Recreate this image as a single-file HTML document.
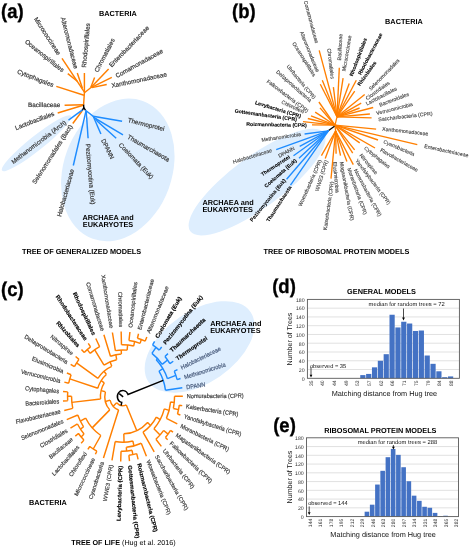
<!DOCTYPE html>
<html><head><meta charset="utf-8"><style>
html,body{margin:0;padding:0;background:#fff;}
svg{display:block;}
text{font-family:"Liberation Sans", Arial, sans-serif;text-rendering:geometricPrecision;}
</style></head><body>
<svg width="470" height="550" viewBox="0 0 470 550">
<rect width="470" height="550" fill="#fff"/>
<ellipse cx="117.81" cy="169.9" rx="54.2" ry="73.3" transform="rotate(19.95 117.81 169.9)" fill="#deeefe"/>
<ellipse cx="36.5" cy="143.2" rx="44.0" ry="7.2" transform="rotate(-38.5 36.5 143.2)" fill="#deeefe"/>
<ellipse cx="257.06" cy="182.13" rx="82.9" ry="25.6" transform="rotate(-36.35 257.06 182.13)" fill="#deeefe"/>
<ellipse cx="199.55" cy="346.97" rx="61.86" ry="35.8" transform="rotate(-34.48 199.55 346.97)" fill="#deeefe"/>
<text transform="translate(1 17.8) scale(0.93 1)" font-size="19.9" font-weight="bold" fill="#000" stroke="#000" stroke-width="0.35">(a)</text>
<text transform="translate(232 17.8) scale(0.93 1)" font-size="19.9" font-weight="bold" fill="#000" stroke="#000" stroke-width="0.35">(b)</text>
<text transform="translate(1 295.8) scale(0.93 1)" font-size="19.9" font-weight="bold" fill="#000" stroke="#000" stroke-width="0.35">(c)</text>
<text transform="translate(272.2 293.0) scale(0.93 1)" font-size="19.9" font-weight="bold" fill="#000" stroke="#000" stroke-width="0.35">(d)</text>
<text transform="translate(273.2 432.2) scale(0.93 1)" font-size="19.9" font-weight="bold" fill="#000" stroke="#000" stroke-width="0.35">(e)</text>
<text transform="translate(35.60 17.70) rotate(57.0)" font-size="6.3" stroke="#383838" stroke-width="0.2" fill="#383838" dy="0.36em">Micrococcineae</text>
<text transform="translate(63.00 17.30) rotate(75.5)" font-size="6.3" stroke="#383838" stroke-width="0.2" fill="#383838" dy="0.36em">Alteromonadaceae</text>
<text transform="translate(83.80 67.50) rotate(-84.8)" font-size="6.3" stroke="#383838" stroke-width="0.2" fill="#383838" dy="0.36em">Rhodospirillales</text>
<text transform="translate(25.90 40.70) rotate(38.8)" font-size="6.3" stroke="#383838" stroke-width="0.2" fill="#383838" dy="0.36em">Oceanospirillales</text>
<text transform="translate(17.50 71.10) rotate(21.0)" font-size="6.3" stroke="#383838" stroke-width="0.2" fill="#383838" dy="0.36em">Cytophagales</text>
<text transform="translate(95.90 71.70) rotate(-62.7)" font-size="6.3" stroke="#383838" stroke-width="0.2" fill="#383838" dy="0.36em">Chromatiales</text>
<text transform="translate(110.00 66.00) rotate(-46.0)" font-size="6.3" stroke="#383838" stroke-width="0.2" fill="#383838" dy="0.36em">Enterobacteriaceae</text>
<text transform="translate(115.80 76.10) rotate(-28.9)" font-size="6.3" stroke="#383838" stroke-width="0.2" fill="#383838" dy="0.36em">Comamonadaceae</text>
<text transform="translate(111.50 85.60) rotate(-11.8)" font-size="6.3" stroke="#383838" stroke-width="0.2" fill="#383838" dy="0.36em">Xanthomonadaceae</text>
<text transform="translate(28.10 104.50) rotate(0.0)" font-size="6.3" stroke="#383838" stroke-width="0.2" fill="#383838" dy="0.36em">Bacillaceae</text>
<text transform="translate(15.30 128.00) rotate(-21.0)" font-size="6.3" stroke="#383838" stroke-width="0.2" fill="#383838" dy="0.36em">Lactobacillales</text>
<text transform="translate(12.00 162.40) rotate(-37.4)" font-size="6.3" stroke="#383838" stroke-width="0.2" fill="#383838" dy="0.36em">Methanomicrobia (Arch)</text>
<text transform="translate(33.60 183.20) rotate(-57.3)" font-size="6.3" stroke="#383838" stroke-width="0.2" fill="#383838" dy="0.36em">Selenomonadales (Bact)</text>
<text transform="translate(58.80 216.40) rotate(-74.3)" font-size="6.3" stroke="#383838" stroke-width="0.2" fill="#383838" dy="0.36em">Halobacteriaceae</text>
<text transform="translate(87.90 143.80) rotate(85.0)" font-size="6.3" stroke="#383838" stroke-width="0.2" fill="#383838" dy="0.36em">Pezizomycotina (Euk)</text>
<text transform="translate(103.00 139.20) rotate(63.6)" font-size="6.3" stroke="#383838" stroke-width="0.2" fill="#383838" dy="0.36em">DPANN</text>
<text transform="translate(120.00 143.60) rotate(46.3)" font-size="6.3" stroke="#383838" stroke-width="0.2" fill="#383838" dy="0.36em">Coelomata (Euk)</text>
<text transform="translate(128.00 136.20) rotate(30.0)" font-size="6.3" stroke="#383838" stroke-width="0.2" fill="#383838" dy="0.36em">Thaumarchaeota</text>
<text transform="translate(128.00 119.80) rotate(14.0)" font-size="6.3" stroke="#383838" stroke-width="0.2" fill="#383838" dy="0.36em">Thermoprotei</text>
<text x="99.00" y="16.20" font-size="7.3" font-weight="bold" fill="#000">BACTERIA</text>
<text x="108.00" y="219.60" font-size="7.3" font-weight="bold" fill="#000" text-anchor="middle">ARCHAEA and</text>
<text x="108.00" y="227.00" font-size="7.3" font-weight="bold" fill="#000" text-anchor="middle">EUKARYOTES</text>
<text x="22.00" y="253.80" font-size="7.3" font-weight="bold" fill="#000">TREE OF GENERALIZED MODELS</text>
<polyline points="62.00,58.30 84.40,92.10" fill="none" stroke="#ff7f00" stroke-width="1.45"/>
<polyline points="67.80,73.60 77.30,81.30" fill="none" stroke="#ff7f00" stroke-width="1.45"/>
<polyline points="77.30,73.00 82.40,88.30" fill="none" stroke="#ff7f00" stroke-width="1.45"/>
<polyline points="84.40,73.00 84.40,92.80 83.60,104.80" fill="none" stroke="#ff7f00" stroke-width="1.45"/>
<polyline points="56.30,86.40 84.00,95.30" fill="none" stroke="#ff7f00" stroke-width="1.45"/>
<polyline points="90.70,87.70 84.40,92.80" fill="none" stroke="#ff7f00" stroke-width="1.45"/>
<polyline points="94.60,77.40 90.70,87.70" fill="none" stroke="#ff7f00" stroke-width="1.45"/>
<polyline points="108.60,69.10 90.70,87.70" fill="none" stroke="#ff7f00" stroke-width="1.45"/>
<polyline points="111.80,77.40 91.50,87.40" fill="none" stroke="#ff7f00" stroke-width="1.45"/>
<polyline points="106.70,84.50 91.80,87.60" fill="none" stroke="#ff7f00" stroke-width="1.45"/>
<polyline points="64.60,105.20 83.20,104.80" fill="none" stroke="#ff7f00" stroke-width="1.45"/>
<polyline points="57.70,113.00 83.20,105.30" fill="none" stroke="#ff7f00" stroke-width="1.45"/>
<polyline points="72.80,123.50 82.10,111.00" fill="none" stroke="#ff7f00" stroke-width="1.45"/>
<polyline points="83.60,104.60 83.80,107.60 82.20,110.60" fill="none" stroke="#000" stroke-width="1.4"/>
<polyline points="83.80,107.60 85.60,110.30" fill="none" stroke="#000" stroke-width="1.4"/>
<polyline points="68.50,120.10 82.50,109.80" fill="none" stroke="#1e8cff" stroke-width="1.45"/>
<polyline points="73.30,165.50 86.00,110.80" fill="none" stroke="#1e8cff" stroke-width="1.45"/>
<polyline points="88.10,138.30 86.20,111.00" fill="none" stroke="#1e8cff" stroke-width="1.45"/>
<polyline points="85.50,110.20 93.20,116.20 122.10,121.30" fill="none" stroke="#1e8cff" stroke-width="1.45"/>
<polyline points="93.20,116.20 100.90,134.00" fill="none" stroke="#1e8cff" stroke-width="1.45"/>
<polyline points="93.20,116.20 95.70,118.70 123.00,134.90" fill="none" stroke="#1e8cff" stroke-width="1.45"/>
<polyline points="95.70,118.70 97.40,121.30 116.20,138.30" fill="none" stroke="#1e8cff" stroke-width="1.45"/>
<text transform="translate(305.30 0.90) rotate(74.8)" font-size="5.2" stroke="#404040" stroke-width="0.12" fill="#404040" dy="0.3em">Comamonadaceae</text>
<text transform="translate(301.10 31.50) rotate(67.6)" font-size="5.2" stroke="#404040" stroke-width="0.12" fill="#404040" dy="0.3em">Alteromonadaceae</text>
<text transform="translate(293.40 42.60) rotate(57.7)" font-size="5.2" stroke="#404040" stroke-width="0.12" fill="#404040" dy="0.3em">Oceanospirillales</text>
<text transform="translate(328.80 48.50) rotate(83.3)" font-size="5.2" stroke="#404040" stroke-width="0.12" fill="#404040" dy="0.3em">Chromatiales</text>
<text transform="translate(339.40 60.40) rotate(-87.0)" font-size="5.2" stroke="#404040" stroke-width="0.12" fill="#404040" dy="0.3em">Bacillaceae</text>
<text transform="translate(344.00 71.20) rotate(-80.4)" font-size="5.2" stroke="#404040" stroke-width="0.12" fill="#404040" dy="0.3em">Micrococcineae</text>
<text transform="translate(351.20 75.90) rotate(-69.0)" font-size="5.2" font-weight="bold" stroke="#000" stroke-width="0.1" fill="#000" dy="0.3em">Rhodospirillales</text>
<text transform="translate(359.50 74.60) rotate(-62.1)" font-size="5.2" font-weight="bold" stroke="#000" stroke-width="0.1" fill="#000" dy="0.3em">Rhodobacteraceae</text>
<text transform="translate(358.70 85.40) rotate(-54.4)" font-size="5.2" font-weight="bold" stroke="#000" stroke-width="0.1" fill="#000" dy="0.3em">Rhizobiales</text>
<text transform="translate(369.80 89.70) rotate(-45.9)" font-size="5.2" stroke="#404040" stroke-width="0.12" fill="#404040" dy="0.3em">Selenomonadales</text>
<text transform="translate(366.40 99.00) rotate(-36.0)" font-size="5.2" stroke="#404040" stroke-width="0.12" fill="#404040" dy="0.3em">Clostridiales</text>
<text transform="translate(366.40 104.10) rotate(-27.5)" font-size="5.2" stroke="#404040" stroke-width="0.12" fill="#404040" dy="0.3em">Lactobacillales</text>
<text transform="translate(379.50 105.30) rotate(-21.0)" font-size="5.2" stroke="#404040" stroke-width="0.12" fill="#404040" dy="0.3em">Bacteroidales</text>
<text transform="translate(376.40 113.60) rotate(-14.5)" font-size="5.2" stroke="#404040" stroke-width="0.12" fill="#404040" dy="0.3em">Verrucomicrobia</text>
<text transform="translate(378.30 119.60) rotate(-6.3)" font-size="5.2" stroke="#404040" stroke-width="0.12" fill="#404040" dy="0.3em">Saccharibacteria (CPR)</text>
<text transform="translate(382.20 129.00) rotate(6.2)" font-size="5.2" stroke="#404040" stroke-width="0.12" fill="#404040" dy="0.3em">Xanthomonadaceae</text>
<text transform="translate(424.40 146.30) rotate(12.1)" font-size="5.2" stroke="#404040" stroke-width="0.12" fill="#404040" dy="0.3em">Enterobacteriaceae</text>
<text transform="translate(383.60 141.50) rotate(23.1)" font-size="5.2" stroke="#404040" stroke-width="0.12" fill="#404040" dy="0.3em">Cyanobacteria</text>
<text transform="translate(380.60 149.80) rotate(29.3)" font-size="5.2" stroke="#404040" stroke-width="0.12" fill="#404040" dy="0.3em">Flavobacteriaceae</text>
<text transform="translate(364.70 147.50) rotate(39.0)" font-size="5.2" stroke="#404040" stroke-width="0.12" fill="#404040" dy="0.3em">Cytophagales</text>
<text transform="translate(360.40 154.50) rotate(50.0)" font-size="5.2" stroke="#404040" stroke-width="0.12" fill="#404040" dy="0.3em">Nitrospirae</text>
<text transform="translate(356.20 159.80) rotate(53.1)" font-size="5.2" stroke="#404040" stroke-width="0.12" fill="#404040" dy="0.3em">Yanofskybacteria (CPR)</text>
<text transform="translate(355.10 169.40) rotate(61.9)" font-size="5.2" stroke="#404040" stroke-width="0.12" fill="#404040" dy="0.3em">Nomurabacteria (CPR)</text>
<text transform="translate(348.70 168.30) rotate(70.3)" font-size="5.2" stroke="#404040" stroke-width="0.12" fill="#404040" dy="0.3em">Moranbacteria (CPR)</text>
<text transform="translate(341.30 161.90) rotate(79.6)" font-size="5.2" stroke="#404040" stroke-width="0.12" fill="#404040" dy="0.3em">Magasanikbacteria (CPR)</text>
<text transform="translate(334.50 161.90) rotate(85.0)" font-size="5.2" stroke="#404040" stroke-width="0.12" fill="#404040" dy="0.3em">Elusimicrobia</text>
<text transform="translate(325.20 230.00) rotate(-81.8)" font-size="5.2" stroke="#404040" stroke-width="0.12" fill="#404040" dy="0.3em">Kaiserbacteria (CPR)</text>
<text transform="translate(317.00 191.00) rotate(-72.6)" font-size="5.2" stroke="#404040" stroke-width="0.12" fill="#404040" dy="0.3em">WWE3 (CPR)</text>
<text transform="translate(300.00 206.00) rotate(-66.0)" font-size="5.2" stroke="#404040" stroke-width="0.12" fill="#404040" dy="0.3em">Woesebacteria (CPR)</text>
<text transform="translate(267.80 221.40) rotate(-57.0)" font-size="5.2" font-weight="bold" stroke="#000" stroke-width="0.1" fill="#000" dy="0.3em">Thaumarchaeota</text>
<text transform="translate(251.00 220.90) rotate(-50.6)" font-size="5.2" font-weight="bold" stroke="#000" stroke-width="0.1" fill="#000" dy="0.3em">Pezizomycotina (Euk)</text>
<text transform="translate(265.30 186.90) rotate(-41.3)" font-size="5.2" font-weight="bold" stroke="#000" stroke-width="0.1" fill="#000" dy="0.3em">Coelomata (Euk)</text>
<text transform="translate(261.60 175.00) rotate(-33.3)" font-size="5.2" font-weight="bold" stroke="#000" stroke-width="0.1" fill="#000" dy="0.3em">Thermoprotei</text>
<text transform="translate(278.70 156.40) rotate(-27.8)" font-size="5.2" stroke="#404040" stroke-width="0.12" fill="#404040" dy="0.3em">DPANN</text>
<text transform="translate(233.10 162.20) rotate(-17.0)" font-size="5.2" stroke="#404040" stroke-width="0.12" fill="#404040" dy="0.3em">Halobacteriaceae</text>
<text transform="translate(261.50 140.10) rotate(-8.3)" font-size="5.2" stroke="#404040" stroke-width="0.12" fill="#404040" dy="0.3em">Methanomicrobia</text>
<text transform="translate(246.30 124.30) rotate(1.1)" font-size="5.2" font-weight="bold" stroke="#000" stroke-width="0.1" fill="#000" dy="0.3em">Roizmannbacteria (CPR)</text>
<text transform="translate(234.60 110.90) rotate(8.0)" font-size="5.2" font-weight="bold" stroke="#000" stroke-width="0.1" fill="#000" dy="0.3em">Gottesmanbacteria (CPR)</text>
<text transform="translate(255.30 102.60) rotate(17.0)" font-size="5.2" font-weight="bold" stroke="#000" stroke-width="0.1" fill="#000" dy="0.3em">Levybacteria (CPR)</text>
<text transform="translate(281.70 101.90) rotate(24.5)" font-size="5.2" stroke="#404040" stroke-width="0.12" fill="#404040" dy="0.3em">Chloroflexi</text>
<text transform="translate(267.30 80.90) rotate(37.0)" font-size="5.2" stroke="#404040" stroke-width="0.12" fill="#404040" dy="0.3em">Falkowbacteria (CPR)</text>
<text transform="translate(276.90 71.30) rotate(41.6)" font-size="5.2" stroke="#404040" stroke-width="0.12" fill="#404040" dy="0.3em">Deltaproteobacteria</text>
<text transform="translate(287.40 65.50) rotate(50.5)" font-size="5.2" stroke="#404040" stroke-width="0.12" fill="#404040" dy="0.3em">Uhrbacteria (CPR)</text>
<text x="385.10" y="23.50" font-size="7.3" font-weight="bold" fill="#000">BACTERIA</text>
<text x="202.50" y="204.60" font-size="7.3" font-weight="bold" fill="#000">ARCHAEA and</text>
<text x="202.50" y="211.60" font-size="7.3" font-weight="bold" fill="#000">EUKARYOTES</text>
<text x="263.50" y="254.10" font-size="7.3" font-weight="bold" fill="#000">TREE OF RIBOSOMAL PROTEIN MODELS</text>
<polyline points="337.00,116.80 319.20,50.40" fill="none" stroke="#ff7f00" stroke-width="1.35"/>
<polyline points="337.00,116.80 322.30,80.20" fill="none" stroke="#ff7f00" stroke-width="1.35"/>
<polyline points="337.00,116.80 320.30,84.20" fill="none" stroke="#ff7f00" stroke-width="1.35"/>
<polyline points="337.00,116.80 333.40,87.20" fill="none" stroke="#ff7f00" stroke-width="1.35"/>
<polyline points="337.00,116.80 339.30,67.70" fill="none" stroke="#ff7f00" stroke-width="1.35"/>
<polyline points="337.00,116.80 343.10,78.10" fill="none" stroke="#ff7f00" stroke-width="1.35"/>
<polyline points="337.00,116.80 349.20,83.50" fill="none" stroke="#ff7f00" stroke-width="1.35"/>
<polyline points="337.00,116.80 356.30,80.20" fill="none" stroke="#ff7f00" stroke-width="1.35"/>
<polyline points="337.00,116.80 354.70,91.10" fill="none" stroke="#ff7f00" stroke-width="1.35"/>
<polyline points="337.00,116.80 364.70,94.40" fill="none" stroke="#ff7f00" stroke-width="1.35"/>
<polyline points="337.00,116.80 361.20,103.10" fill="none" stroke="#ff7f00" stroke-width="1.35"/>
<polyline points="337.00,116.80 359.60,108.00" fill="none" stroke="#ff7f00" stroke-width="1.35"/>
<polyline points="337.00,116.80 373.20,107.50" fill="none" stroke="#ff7f00" stroke-width="1.35"/>
<polyline points="337.00,116.80 369.90,114.00" fill="none" stroke="#ff7f00" stroke-width="1.35"/>
<polyline points="337.00,116.80 371.60,117.90" fill="none" stroke="#ff7f00" stroke-width="1.35"/>
<polyline points="335.00,125.20 376.10,129.10" fill="none" stroke="#ff7f00" stroke-width="1.35"/>
<polyline points="335.00,125.20 417.30,144.70" fill="none" stroke="#ff7f00" stroke-width="1.35"/>
<polyline points="335.00,125.20 378.00,140.00" fill="none" stroke="#ff7f00" stroke-width="1.35"/>
<polyline points="335.00,125.20 375.00,148.00" fill="none" stroke="#ff7f00" stroke-width="1.35"/>
<polyline points="335.00,125.20 359.70,142.90" fill="none" stroke="#ff7f00" stroke-width="1.35"/>
<polyline points="335.00,125.20 354.60,149.90" fill="none" stroke="#ff7f00" stroke-width="1.35"/>
<polyline points="335.00,125.20 352.70,153.10" fill="none" stroke="#ff7f00" stroke-width="1.35"/>
<polyline points="335.60,131.00 353.30,164.60" fill="none" stroke="#ff7f00" stroke-width="1.35"/>
<polyline points="335.60,131.00 346.90,161.40" fill="none" stroke="#ff7f00" stroke-width="1.35"/>
<polyline points="335.60,131.00 340.50,155.60" fill="none" stroke="#ff7f00" stroke-width="1.35"/>
<polyline points="335.60,131.00 336.10,153.70" fill="none" stroke="#ff7f00" stroke-width="1.35"/>
<polyline points="335.60,131.00 331.00,178.60" fill="none" stroke="#ff7f00" stroke-width="1.35"/>
<polyline points="335.60,131.00 325.20,158.40" fill="none" stroke="#ff7f00" stroke-width="1.35"/>
<polyline points="335.60,131.00 321.40,155.60" fill="none" stroke="#ff7f00" stroke-width="1.35"/>
<polyline points="335.00,125.20 318.90,102.00" fill="none" stroke="#ff7f00" stroke-width="1.35"/>
<polyline points="335.00,125.20 320.00,107.90" fill="none" stroke="#ff7f00" stroke-width="1.35"/>
<polyline points="335.00,125.20 315.20,112.10" fill="none" stroke="#ff7f00" stroke-width="1.35"/>
<polyline points="335.00,125.20 311.00,115.90" fill="none" stroke="#ff7f00" stroke-width="1.35"/>
<polyline points="335.00,125.20 307.80,118.50" fill="none" stroke="#ff7f00" stroke-width="1.35"/>
<polyline points="335.00,125.20 303.00,121.70" fill="none" stroke="#ff7f00" stroke-width="1.35"/>
<polyline points="335.00,125.20 312.00,124.90" fill="none" stroke="#ff7f00" stroke-width="1.35"/>
<polyline points="337.00,116.80 335.00,125.20 335.60,131.00" fill="none" stroke="#ff7f00" stroke-width="1.3"/>
<polyline points="334.50,126.20 328.60,130.60" fill="none" stroke="#000" stroke-width="1.3"/>
<polyline points="328.40,130.80 304.60,134.00" fill="none" stroke="#1e8cff" stroke-width="1.35"/>
<polyline points="328.40,130.80 276.20,149.60" fill="none" stroke="#1e8cff" stroke-width="1.35"/>
<polyline points="328.40,130.80 299.70,146.40" fill="none" stroke="#1e8cff" stroke-width="1.35"/>
<polyline points="328.40,130.80 293.50,155.70" fill="none" stroke="#1e8cff" stroke-width="1.35"/>
<polyline points="328.40,130.80 299.00,158.20" fill="none" stroke="#1e8cff" stroke-width="1.35"/>
<polyline points="328.40,130.80 286.60,179.20" fill="none" stroke="#1e8cff" stroke-width="1.35"/>
<polyline points="328.40,130.80 290.50,185.20" fill="none" stroke="#1e8cff" stroke-width="1.35"/>
<g transform="translate(122.85 396.5) scale(1 1.0832)">
<text transform="rotate(-0.30) translate(63.9 0)" dy="0.33em" font-size="5.6" stroke="#3a3a3a" stroke-width="0.17" fill="#3a3a3a">Nomurabacteria (CPR)</text>
<text transform="rotate(8.10) translate(63.9 0)" dy="0.33em" font-size="5.6" stroke="#3a3a3a" stroke-width="0.17" fill="#3a3a3a">Kaiserbacteria (CPR)</text>
<text transform="rotate(16.49) translate(63.9 0)" dy="0.33em" font-size="5.6" stroke="#3a3a3a" stroke-width="0.17" fill="#3a3a3a">Yanofskybacteria (CPR)</text>
<text transform="rotate(24.89) translate(63.9 0)" dy="0.33em" font-size="5.6" stroke="#3a3a3a" stroke-width="0.17" fill="#3a3a3a">Moranbacteria (CPR)</text>
<text transform="rotate(33.28) translate(63.9 0)" dy="0.33em" font-size="5.6" stroke="#3a3a3a" stroke-width="0.17" fill="#3a3a3a">Magasanikbacteria (CPR)</text>
<text transform="rotate(41.68) translate(63.9 0)" dy="0.33em" font-size="5.6" stroke="#3a3a3a" stroke-width="0.17" fill="#3a3a3a">Falkowbacteria (CPR)</text>
<text transform="rotate(50.08) translate(63.9 0)" dy="0.33em" font-size="5.6" stroke="#3a3a3a" stroke-width="0.17" fill="#3a3a3a">Uhrbacteria (CPR)</text>
<text transform="rotate(58.47) translate(63.9 0)" dy="0.33em" font-size="5.6" stroke="#3a3a3a" stroke-width="0.17" fill="#3a3a3a">Saccharibacteria (CPR)</text>
<text transform="rotate(66.87) translate(63.9 0)" dy="0.33em" font-size="5.6" stroke="#3a3a3a" stroke-width="0.17" fill="#3a3a3a">Woesebacteria (CPR)</text>
<text transform="rotate(75.26) translate(63.9 0)" dy="0.33em" font-size="5.6" font-weight="bold" stroke="#000" stroke-width="0.15" fill="#000">Roizmannbacteria (CPR)</text>
<text transform="rotate(83.66) translate(63.9 0)" dy="0.33em" font-size="5.6" font-weight="bold" stroke="#000" stroke-width="0.15" fill="#000">Gottesmanbacteria (CPR)</text>
<text transform="rotate(92.06) translate(63.9 0) rotate(180)" text-anchor="end" dy="0.33em" font-size="5.6" font-weight="bold" stroke="#000" stroke-width="0.15" fill="#000">Levybacteria (CPR)</text>
<text transform="rotate(100.45) translate(63.9 0) rotate(180)" text-anchor="end" dy="0.33em" font-size="5.6" stroke="#3a3a3a" stroke-width="0.17" fill="#3a3a3a">WWE3 (CPR)</text>
<text transform="rotate(108.85) translate(63.9 0) rotate(180)" text-anchor="end" dy="0.33em" font-size="5.6" stroke="#3a3a3a" stroke-width="0.17" fill="#3a3a3a">Cyanobacteria</text>
<text transform="rotate(117.24) translate(63.9 0) rotate(180)" text-anchor="end" dy="0.33em" font-size="5.6" stroke="#3a3a3a" stroke-width="0.17" fill="#3a3a3a">Micrococcineae</text>
<text transform="rotate(125.64) translate(63.9 0) rotate(180)" text-anchor="end" dy="0.33em" font-size="5.6" stroke="#3a3a3a" stroke-width="0.17" fill="#3a3a3a">Chloroflexi</text>
<text transform="rotate(134.04) translate(63.9 0) rotate(180)" text-anchor="end" dy="0.33em" font-size="5.6" stroke="#3a3a3a" stroke-width="0.17" fill="#3a3a3a">Lactobacillales</text>
<text transform="rotate(142.43) translate(63.9 0) rotate(180)" text-anchor="end" dy="0.33em" font-size="5.6" stroke="#3a3a3a" stroke-width="0.17" fill="#3a3a3a">Bacillaceae</text>
<text transform="rotate(150.83) translate(63.9 0) rotate(180)" text-anchor="end" dy="0.33em" font-size="5.6" stroke="#3a3a3a" stroke-width="0.17" fill="#3a3a3a">Clostridiales</text>
<text transform="rotate(159.22) translate(63.9 0) rotate(180)" text-anchor="end" dy="0.33em" font-size="5.6" stroke="#3a3a3a" stroke-width="0.17" fill="#3a3a3a">Selenomonadales</text>
<text transform="rotate(167.62) translate(63.9 0) rotate(180)" text-anchor="end" dy="0.33em" font-size="5.6" stroke="#3a3a3a" stroke-width="0.17" fill="#3a3a3a">Flavobacteriaceae</text>
<text transform="rotate(176.02) translate(63.9 0) rotate(180)" text-anchor="end" dy="0.33em" font-size="5.6" stroke="#3a3a3a" stroke-width="0.17" fill="#3a3a3a">Bacteroidales</text>
<text transform="rotate(184.41) translate(63.9 0) rotate(180)" text-anchor="end" dy="0.33em" font-size="5.6" stroke="#3a3a3a" stroke-width="0.17" fill="#3a3a3a">Cytophagales</text>
<text transform="rotate(192.81) translate(63.9 0) rotate(180)" text-anchor="end" dy="0.33em" font-size="5.6" stroke="#3a3a3a" stroke-width="0.17" fill="#3a3a3a">Verrucomicrobia</text>
<text transform="rotate(201.20) translate(63.9 0) rotate(180)" text-anchor="end" dy="0.33em" font-size="5.6" stroke="#3a3a3a" stroke-width="0.17" fill="#3a3a3a">Elusimicrobia</text>
<text transform="rotate(209.60) translate(63.9 0) rotate(180)" text-anchor="end" dy="0.33em" font-size="5.6" stroke="#3a3a3a" stroke-width="0.17" fill="#3a3a3a">Deltaproteobacteria</text>
<text transform="rotate(218.00) translate(63.9 0) rotate(180)" text-anchor="end" dy="0.33em" font-size="5.6" stroke="#3a3a3a" stroke-width="0.17" fill="#3a3a3a">Nitrospirae</text>
<text transform="rotate(226.39) translate(63.9 0) rotate(180)" text-anchor="end" dy="0.33em" font-size="5.6" font-weight="bold" stroke="#000" stroke-width="0.15" fill="#000">Rhizobiales</text>
<text transform="rotate(234.79) translate(63.9 0) rotate(180)" text-anchor="end" dy="0.33em" font-size="5.6" font-weight="bold" stroke="#000" stroke-width="0.15" fill="#000">Rhodobacteraceae</text>
<text transform="rotate(243.18) translate(63.9 0) rotate(180)" text-anchor="end" dy="0.33em" font-size="5.6" font-weight="bold" stroke="#000" stroke-width="0.15" fill="#000">Rhodospirillales</text>
<text transform="rotate(251.58) translate(63.9 0) rotate(180)" text-anchor="end" dy="0.33em" font-size="5.6" stroke="#3a3a3a" stroke-width="0.17" fill="#3a3a3a">Comamonadaceae</text>
<text transform="rotate(259.98) translate(63.9 0) rotate(180)" text-anchor="end" dy="0.33em" font-size="5.6" stroke="#3a3a3a" stroke-width="0.17" fill="#3a3a3a">Xanthomonadaceae</text>
<text transform="rotate(268.37) translate(63.9 0) rotate(180)" text-anchor="end" dy="0.33em" font-size="5.6" stroke="#3a3a3a" stroke-width="0.17" fill="#3a3a3a">Chromatiales</text>
<text transform="rotate(276.77) translate(63.9 0)" dy="0.33em" font-size="5.6" stroke="#3a3a3a" stroke-width="0.17" fill="#3a3a3a">Oceanospirillales</text>
<text transform="rotate(285.16) translate(63.9 0)" dy="0.33em" font-size="5.6" stroke="#3a3a3a" stroke-width="0.17" fill="#3a3a3a">Enterobacteriaceae</text>
<text transform="rotate(293.56) translate(63.9 0)" dy="0.33em" font-size="5.6" stroke="#3a3a3a" stroke-width="0.17" fill="#3a3a3a">Alteromonadaceae</text>
<text transform="rotate(301.96) translate(63.9 0)" dy="0.33em" font-size="5.6" font-weight="bold" stroke="#000" stroke-width="0.15" fill="#000">Coelomata (Euk)</text>
<text transform="rotate(310.35) translate(63.9 0)" dy="0.33em" font-size="5.6" font-weight="bold" stroke="#000" stroke-width="0.15" fill="#000">Pezizomycotina (Euk)</text>
<text transform="rotate(318.75) translate(63.9 0)" dy="0.33em" font-size="5.6" font-weight="bold" stroke="#000" stroke-width="0.15" fill="#000">Thaumarchaeota</text>
<text transform="rotate(327.14) translate(63.9 0)" dy="0.33em" font-size="5.6" font-weight="bold" stroke="#000" stroke-width="0.15" fill="#000">Thermoprotei</text>
<text transform="rotate(335.54) translate(63.9 0)" dy="0.33em" font-size="5.6" stroke="#46597a" stroke-width="0.17" fill="#46597a">Halobacteriaceae</text>
<text transform="rotate(343.94) translate(63.9 0)" dy="0.33em" font-size="5.6" stroke="#46597a" stroke-width="0.17" fill="#46597a">Methanomicrobia</text>
<text transform="rotate(352.33) translate(63.9 0)" dy="0.33em" font-size="5.6" stroke="#46597a" stroke-width="0.17" fill="#46597a">DPANN</text>
<path d="M56.43,8.03 A57,57 0 0 1 54.65,16.18 M56.43,8.03 L59.40,8.45 M54.65,16.18 L57.53,17.03" fill="none" stroke="#ff7f00" stroke-width="1.45" vector-effect="non-scaling-stroke" stroke-linecap="butt"/>
<path d="M51.70,-0.27 A51.7,51.7 0 0 1 50.51,11.01 M51.70,-0.27 L60.00,-0.31 M50.51,11.01 L55.69,12.14" fill="none" stroke="#ff7f00" stroke-width="1.45" vector-effect="non-scaling-stroke" stroke-linecap="butt"/>
<path d="M47.74,5.01 A48,48 0 0 1 43.54,20.20 M47.74,5.01 L51.42,5.40 M43.54,20.20 L54.43,25.25" fill="none" stroke="#ff7f00" stroke-width="1.45" vector-effect="non-scaling-stroke" stroke-linecap="butt"/>
<path d="M47.65,31.28 A57,57 0 0 1 42.57,37.90 M47.65,31.28 L50.16,32.93 M42.57,37.90 L44.81,39.90" fill="none" stroke="#ff7f00" stroke-width="1.45" vector-effect="non-scaling-stroke" stroke-linecap="butt"/>
<path d="M40.87,31.34 A51.5,51.5 0 0 1 33.05,39.50 M40.87,31.34 L45.23,34.69 M33.05,39.50 L38.51,46.01" fill="none" stroke="#ff7f00" stroke-width="1.45" vector-effect="non-scaling-stroke" stroke-linecap="butt"/>
<path d="M41.45,11.45 A43,43 0 0 1 31.05,29.75 M41.45,11.45 L46.27,12.78 M31.05,29.75 L37.18,35.63" fill="none" stroke="#ff7f00" stroke-width="1.45" vector-effect="non-scaling-stroke" stroke-linecap="butt"/>
<path d="M33.47,19.02 A38.5,38.5 0 0 1 20.13,32.82 M33.47,19.02 L37.38,21.25 M20.13,32.82 L31.37,51.14" fill="none" stroke="#ff7f00" stroke-width="1.45" vector-effect="non-scaling-stroke" stroke-linecap="butt"/>
<path d="M13.86,52.71 A54.5,54.5 0 0 1 6.02,54.17 M13.86,52.71 L15.26,58.03 M6.02,54.17 L6.63,59.63" fill="none" stroke="#ff7f00" stroke-width="1.45" vector-effect="non-scaling-stroke" stroke-linecap="butt"/>
<path d="M9.24,49.65 A50.5,50.5 0 0 1 -1.81,50.47 M9.24,49.65 L9.97,53.58 M-1.81,50.47 L-2.15,59.96" fill="none" stroke="#ff7f00" stroke-width="1.45" vector-effect="non-scaling-stroke" stroke-linecap="butt"/>
<path d="M18.42,43.13 A46.9,46.9 0 0 1 3.47,46.77 M18.42,43.13 L23.57,55.18 M3.47,46.77 L3.73,50.36" fill="none" stroke="#ff7f00" stroke-width="1.45" vector-effect="non-scaling-stroke" stroke-linecap="butt"/>
<path d="M10.01,41.10 A42.3,42.3 0 0 1 -7.67,41.60 M10.01,41.10 L11.10,45.57 M-7.67,41.60 L-10.88,59.00" fill="none" stroke="#ff7f00" stroke-width="1.45" vector-effect="non-scaling-stroke" stroke-linecap="butt"/>
<path d="M24.73,23.91 A34.4,34.4 0 0 1 0.97,34.39 M24.73,23.91 L27.68,26.76 M0.97,34.39 L1.19,42.28" fill="none" stroke="#ff7f00" stroke-width="1.45" vector-effect="non-scaling-stroke" stroke-linecap="butt"/>
<path d="M-26.00,50.50 A56.8,56.8 0 0 1 -33.10,46.16 M-26.00,50.50 L-27.47,53.34 M-33.10,46.16 L-34.96,48.76" fill="none" stroke="#ff7f00" stroke-width="1.45" vector-effect="non-scaling-stroke" stroke-linecap="butt"/>
<path d="M-38.93,40.26 A56,56 0 0 1 -44.39,34.14 M-38.93,40.26 L-41.71,43.13 M-44.39,34.14 L-47.56,36.58" fill="none" stroke="#ff7f00" stroke-width="1.45" vector-effect="non-scaling-stroke" stroke-linecap="butt"/>
<path d="M-38.79,34.64 A52,52 0 0 1 -45.40,25.35 M-38.79,34.64 L-41.77,37.30 M-45.40,25.35 L-52.39,29.25" fill="none" stroke="#ff7f00" stroke-width="1.45" vector-effect="non-scaling-stroke" stroke-linecap="butt"/>
<path d="M-39.26,27.97 A48.2,48.2 0 0 1 -45.07,17.10 M-39.26,27.97 L-42.35,30.17 M-45.07,17.10 L-56.10,21.28" fill="none" stroke="#ff7f00" stroke-width="1.45" vector-effect="non-scaling-stroke" stroke-linecap="butt"/>
<path d="M-22.01,36.00 A42.2,42.2 0 0 1 -37.22,19.89 M-22.01,36.00 L-29.63,48.46 M-37.22,19.89 L-42.51,22.72" fill="none" stroke="#ff7f00" stroke-width="1.45" vector-effect="non-scaling-stroke" stroke-linecap="butt"/>
<path d="M-55.17,3.84 A55.3,55.3 0 0 1 -55.14,-4.25 M-55.17,3.84 L-59.86,4.17 M-55.14,-4.25 L-59.82,-4.62" fill="none" stroke="#ff7f00" stroke-width="1.45" vector-effect="non-scaling-stroke" stroke-linecap="butt"/>
<path d="M-50.11,11.00 A51.3,51.3 0 0 1 -51.30,-0.19 M-50.11,11.00 L-58.60,12.86 M-51.30,-0.19 L-55.30,-0.21" fill="none" stroke="#ff7f00" stroke-width="1.45" vector-effect="non-scaling-stroke" stroke-linecap="butt"/>
<path d="M-54.12,-12.30 A55.5,55.5 0 0 1 -51.74,-20.07 M-54.12,-12.30 L-58.51,-13.30 M-51.74,-20.07 L-55.94,-21.70" fill="none" stroke="#ff7f00" stroke-width="1.45" vector-effect="non-scaling-stroke" stroke-linecap="butt"/>
<path d="M-48.43,-27.51 A55.7,55.7 0 0 1 -43.89,-34.29 M-48.43,-27.51 L-52.17,-29.64 M-43.89,-34.29 L-47.28,-36.94" fill="none" stroke="#ff7f00" stroke-width="1.45" vector-effect="non-scaling-stroke" stroke-linecap="butt"/>
<path d="M-38.62,-40.55 A56,56 0 0 1 -32.29,-45.75 M-38.62,-40.55 L-41.38,-43.44 M-32.29,-45.75 L-34.60,-49.02" fill="none" stroke="#ff7f00" stroke-width="1.45" vector-effect="non-scaling-stroke" stroke-linecap="butt"/>
<path d="M-32.70,-39.79 A51.5,51.5 0 0 1 -23.23,-45.96 M-32.70,-39.79 L-35.55,-43.27 M-23.23,-45.96 L-27.07,-53.55" fill="none" stroke="#ff7f00" stroke-width="1.45" vector-effect="non-scaling-stroke" stroke-linecap="butt"/>
<path d="M14.57,-53.76 A55.7,55.7 0 0 1 22.26,-51.06 M14.57,-53.76 L15.69,-57.91 M22.26,-51.06 L23.98,-55.00" fill="none" stroke="#ff7f00" stroke-width="1.45" vector-effect="non-scaling-stroke" stroke-linecap="butt"/>
<path d="M6.13,-51.64 A52,52 0 0 1 17.24,-49.06 M6.13,-51.64 L7.07,-59.58 M17.24,-49.06 L18.47,-52.55" fill="none" stroke="#ff7f00" stroke-width="1.45" vector-effect="non-scaling-stroke" stroke-linecap="butt"/>
<path d="M-1.36,-47.78 A47.8,47.8 0 0 1 10.81,-46.56 M-1.36,-47.78 L-1.70,-59.98 M10.81,-46.56 L11.75,-50.65" fill="none" stroke="#ff7f00" stroke-width="1.45" vector-effect="non-scaling-stroke" stroke-linecap="butt"/>
<path d="M-7.48,-42.34 A43,43 0 0 1 4.28,-42.79 M-7.48,-42.34 L-10.44,-59.08 M4.28,-42.79 L4.76,-47.56" fill="none" stroke="#ff7f00" stroke-width="1.45" vector-effect="non-scaling-stroke" stroke-linecap="butt"/>
<path d="M-12.39,-37.19 A39.2,39.2 0 0 1 -1.47,-39.17 M-12.39,-37.19 L-18.96,-56.93 M-1.47,-39.17 L-1.62,-42.97" fill="none" stroke="#ff7f00" stroke-width="1.45" vector-effect="non-scaling-stroke" stroke-linecap="butt"/>
<path d="M-18.85,-28.90 A34.5,34.5 0 0 1 -6.16,-33.95 M-18.85,-28.90 L-28.13,-43.14 M-6.16,-33.95 L-7.00,-38.57" fill="none" stroke="#ff7f00" stroke-width="1.45" vector-effect="non-scaling-stroke" stroke-linecap="butt"/>
<path d="M-24.93,-16.69 A30,30 0 0 1 -11.09,-27.87 M-24.93,-16.69 L-46.29,-30.98 M-11.09,-27.87 L-12.76,-32.06" fill="none" stroke="#ff7f00" stroke-width="1.45" vector-effect="non-scaling-stroke" stroke-linecap="butt"/>
<path d="M-25.05,-7.66 A26.2,26.2 0 0 1 -16.47,-20.38 M-25.05,-7.66 L-53.07,-16.23 M-16.47,-20.38 L-18.86,-23.33" fill="none" stroke="#ff7f00" stroke-width="1.45" vector-effect="non-scaling-stroke" stroke-linecap="butt"/>
<path d="M-22.27,2.37 A22.4,22.4 0 0 1 -18.56,-12.53 M-22.27,2.37 L-51.01,5.44 M-18.56,-12.53 L-21.71,-14.66" fill="none" stroke="#ff7f00" stroke-width="1.45" vector-effect="non-scaling-stroke" stroke-linecap="butt"/>
<path d="M-13.09,12.35 A18,18 0 0 1 -17.47,-4.35 M-13.09,12.35 L-30.69,28.96 M-17.47,-4.35 L-21.74,-5.41" fill="none" stroke="#ff7f00" stroke-width="1.45" vector-effect="non-scaling-stroke" stroke-linecap="butt"/>
<path d="M-4.26,12.49 A13.2,13.2 0 0 1 -12.77,3.35 M-4.26,12.49 L-19.38,56.78 M-12.77,3.35 L-17.41,4.56" fill="none" stroke="#ff7f00" stroke-width="1.45" vector-effect="non-scaling-stroke" stroke-linecap="butt"/>
<path d="M3.43,7.78 A8.5,8.5 0 0 1 -6.22,5.79 M3.43,7.78 L13.88,31.48 M-6.22,5.79 L-9.67,8.99" fill="none" stroke="#ff7f00" stroke-width="1.45" vector-effect="non-scaling-stroke" stroke-linecap="butt"/>
<path d="M29.74,-47.68 A56.2,56.2 0 0 1 36.39,-42.83 M29.74,-47.68 L31.76,-50.91 M36.39,-42.83 L38.85,-45.72" fill="none" stroke="#1e8cff" stroke-width="1.45" vector-effect="non-scaling-stroke" stroke-linecap="butt"/>
<path d="M42.10,-36.92 A56,56 0 0 1 47.04,-30.38 M42.10,-36.92 L45.11,-39.56 M47.04,-30.38 L50.40,-32.55" fill="none" stroke="#1e8cff" stroke-width="1.45" vector-effect="non-scaling-stroke" stroke-linecap="butt"/>
<path d="M29.08,-39.81 A49.3,49.3 0 0 1 39.34,-29.71 M29.08,-39.81 L33.16,-45.38 M39.34,-29.71 L44.69,-33.74" fill="none" stroke="#1e8cff" stroke-width="1.45" vector-effect="non-scaling-stroke" stroke-linecap="butt"/>
<path d="M51.43,-23.39 A56.5,56.5 0 0 1 54.29,-15.63 M51.43,-23.39 L54.62,-24.84 M54.29,-15.63 L57.66,-16.60" fill="none" stroke="#1e8cff" stroke-width="1.45" vector-effect="non-scaling-stroke" stroke-linecap="butt"/>
<path d="M33.39,-33.92 A47.6,47.6 0 0 1 44.65,-16.48 M33.39,-33.92 L34.59,-35.13 M44.65,-16.48 L53.00,-19.57" fill="none" stroke="#1e8cff" stroke-width="1.45" vector-effect="non-scaling-stroke" stroke-linecap="butt"/>
<path d="M36.12,-23.33 A43,43 0 0 1 42.62,-5.74 M36.12,-23.33 L39.99,-25.82 M42.62,-5.74 L59.46,-8.01" fill="none" stroke="#1e8cff" stroke-width="1.45" vector-effect="non-scaling-stroke" stroke-linecap="butt"/>
<path d="M40.34,-14.89 L5.16,-1.90 A5.5,5.5 0 1 0 -1.11,5.39 L-1.72,8.32 M-3.6,-2.7 L0.3,0.3" fill="none" stroke="#000" stroke-width="1.45" vector-effect="non-scaling-stroke"/>
</g>
<text x="29.00" y="504.80" font-size="7.3" font-weight="bold" fill="#000">BACTERIA</text>
<text x="210.20" y="325.80" font-size="7.3" font-weight="bold" fill="#000">ARCHAEA and</text>
<text x="210.20" y="332.90" font-size="7.3" font-weight="bold" fill="#000">EUKARYOTES</text>
<text x="71.3" y="545.3" font-size="7.2" fill="#000"><tspan font-weight="bold">TREE OF LIFE</tspan> (Hug et al. 2016)</text>
<line x1="307.4" y1="369.53" x2="459.4" y2="369.53" stroke="#d9d9d9" stroke-width="0.8"/>
<line x1="307.4" y1="360.77" x2="459.4" y2="360.77" stroke="#d9d9d9" stroke-width="0.8"/>
<line x1="307.4" y1="352.00" x2="459.4" y2="352.00" stroke="#d9d9d9" stroke-width="0.8"/>
<line x1="307.4" y1="343.23" x2="459.4" y2="343.23" stroke="#d9d9d9" stroke-width="0.8"/>
<line x1="307.4" y1="334.47" x2="459.4" y2="334.47" stroke="#d9d9d9" stroke-width="0.8"/>
<line x1="307.4" y1="325.70" x2="459.4" y2="325.70" stroke="#d9d9d9" stroke-width="0.8"/>
<line x1="307.4" y1="316.93" x2="459.4" y2="316.93" stroke="#d9d9d9" stroke-width="0.8"/>
<line x1="307.4" y1="308.17" x2="459.4" y2="308.17" stroke="#d9d9d9" stroke-width="0.8"/>
<rect x="360.25" y="375.10" width="5.2" height="3.20" fill="#4472c4"/>
<rect x="366.10" y="373.92" width="5.2" height="4.38" fill="#4472c4"/>
<rect x="371.95" y="367.34" width="5.2" height="10.96" fill="#4472c4"/>
<rect x="377.80" y="360.77" width="5.2" height="17.53" fill="#4472c4"/>
<rect x="383.65" y="354.19" width="5.2" height="24.11" fill="#4472c4"/>
<rect x="389.50" y="314.74" width="5.2" height="63.56" fill="#4472c4"/>
<rect x="395.35" y="327.45" width="5.2" height="50.85" fill="#4472c4"/>
<rect x="401.20" y="321.75" width="5.2" height="56.55" fill="#4472c4"/>
<rect x="407.05" y="323.51" width="5.2" height="54.79" fill="#4472c4"/>
<rect x="412.90" y="330.96" width="5.2" height="47.34" fill="#4472c4"/>
<rect x="418.75" y="330.52" width="5.2" height="47.78" fill="#4472c4"/>
<rect x="424.60" y="355.51" width="5.2" height="22.79" fill="#4472c4"/>
<rect x="430.45" y="363.83" width="5.2" height="14.46" fill="#4472c4"/>
<rect x="436.30" y="371.29" width="5.2" height="7.01" fill="#4472c4"/>
<rect x="442.15" y="377.20" width="5.2" height="1.10" fill="#4472c4"/>
<rect x="448.00" y="376.42" width="5.2" height="1.88" fill="#4472c4"/>
<rect x="307.4" y="299.4" width="152" height="78.9" fill="none" stroke="#595959" stroke-width="0.9"/>
<text x="304.60" y="378.80" dy="0.35em" font-size="5.2" fill="#333" text-anchor="end">0</text>
<text x="304.60" y="370.03" dy="0.35em" font-size="5.2" fill="#333" text-anchor="end">20</text>
<text x="304.60" y="361.27" dy="0.35em" font-size="5.2" fill="#333" text-anchor="end">40</text>
<text x="304.60" y="352.50" dy="0.35em" font-size="5.2" fill="#333" text-anchor="end">60</text>
<text x="304.60" y="343.73" dy="0.35em" font-size="5.2" fill="#333" text-anchor="end">80</text>
<text x="304.60" y="334.97" dy="0.35em" font-size="5.2" fill="#333" text-anchor="end">100</text>
<text x="304.60" y="326.20" dy="0.35em" font-size="5.2" fill="#333" text-anchor="end">120</text>
<text x="304.60" y="317.43" dy="0.35em" font-size="5.2" fill="#333" text-anchor="end">140</text>
<text x="304.60" y="308.67" dy="0.35em" font-size="5.2" fill="#333" text-anchor="end">160</text>
<text x="304.60" y="299.90" dy="0.35em" font-size="5.2" fill="#333" text-anchor="end">180</text>
<text transform="translate(312.53 380.50) rotate(-90)" font-size="5.0" fill="#333" text-anchor="end">35</text>
<text transform="translate(324.23 380.50) rotate(-90)" font-size="5.0" fill="#333" text-anchor="end">40</text>
<text transform="translate(335.93 380.50) rotate(-90)" font-size="5.0" fill="#333" text-anchor="end">44</text>
<text transform="translate(347.63 380.50) rotate(-90)" font-size="5.0" fill="#333" text-anchor="end">49</text>
<text transform="translate(359.33 380.50) rotate(-90)" font-size="5.0" fill="#333" text-anchor="end">53</text>
<text transform="translate(371.03 380.50) rotate(-90)" font-size="5.0" fill="#333" text-anchor="end">57</text>
<text transform="translate(382.73 380.50) rotate(-90)" font-size="5.0" fill="#333" text-anchor="end">62</text>
<text transform="translate(394.43 380.50) rotate(-90)" font-size="5.0" fill="#333" text-anchor="end">66</text>
<text transform="translate(406.13 380.50) rotate(-90)" font-size="5.0" fill="#333" text-anchor="end">71</text>
<text transform="translate(417.83 380.50) rotate(-90)" font-size="5.0" fill="#333" text-anchor="end">75</text>
<text transform="translate(429.53 380.50) rotate(-90)" font-size="5.0" fill="#333" text-anchor="end">79</text>
<text transform="translate(441.23 380.50) rotate(-90)" font-size="5.0" fill="#333" text-anchor="end">84</text>
<text transform="translate(452.93 380.50) rotate(-90)" font-size="5.0" fill="#333" text-anchor="end">88</text>
<text x="347.10" y="293.60" font-size="7.3" font-weight="bold" fill="#000">GENERAL MODELS</text>
<text transform="translate(309.90 365.80) rotate(0.0)" font-size="5.7" fill="#111" dy="0.3em">observed = 35</text>
<text transform="translate(368.60 304.30) rotate(0.0)" font-size="5.8" fill="#111" dy="0.3em">median for random trees = 72</text>
<text transform="translate(291.6 339.00) rotate(-90)" font-size="7.1" fill="#111" text-anchor="middle">Number of Trees</text>
<text x="331.70" y="396.20" font-size="7.3" fill="#111">Matching distance from Hug tree</text>
<line x1="306.5" y1="507.84" x2="458.5" y2="507.84" stroke="#d9d9d9" stroke-width="0.8"/>
<line x1="306.5" y1="499.09" x2="458.5" y2="499.09" stroke="#d9d9d9" stroke-width="0.8"/>
<line x1="306.5" y1="490.33" x2="458.5" y2="490.33" stroke="#d9d9d9" stroke-width="0.8"/>
<line x1="306.5" y1="481.58" x2="458.5" y2="481.58" stroke="#d9d9d9" stroke-width="0.8"/>
<line x1="306.5" y1="472.82" x2="458.5" y2="472.82" stroke="#d9d9d9" stroke-width="0.8"/>
<line x1="306.5" y1="464.07" x2="458.5" y2="464.07" stroke="#d9d9d9" stroke-width="0.8"/>
<line x1="306.5" y1="455.31" x2="458.5" y2="455.31" stroke="#d9d9d9" stroke-width="0.8"/>
<line x1="306.5" y1="446.56" x2="458.5" y2="446.56" stroke="#d9d9d9" stroke-width="0.8"/>
<rect x="364.64" y="511.70" width="4.6" height="4.90" fill="#4472c4"/>
<rect x="369.88" y="504.69" width="4.6" height="11.91" fill="#4472c4"/>
<rect x="375.12" y="484.55" width="4.6" height="32.05" fill="#4472c4"/>
<rect x="380.36" y="470.81" width="4.6" height="45.79" fill="#4472c4"/>
<rect x="385.60" y="457.19" width="4.6" height="59.41" fill="#4472c4"/>
<rect x="390.84" y="448.96" width="4.6" height="67.64" fill="#4472c4"/>
<rect x="396.08" y="454.87" width="4.6" height="61.73" fill="#4472c4"/>
<rect x="401.32" y="467.22" width="4.6" height="49.38" fill="#4472c4"/>
<rect x="406.56" y="481.23" width="4.6" height="35.37" fill="#4472c4"/>
<rect x="411.80" y="495.67" width="4.6" height="20.93" fill="#4472c4"/>
<rect x="417.04" y="500.84" width="4.6" height="15.76" fill="#4472c4"/>
<rect x="422.28" y="506.79" width="4.6" height="9.81" fill="#4472c4"/>
<rect x="427.52" y="507.80" width="4.6" height="8.80" fill="#4472c4"/>
<rect x="432.76" y="512.88" width="4.6" height="3.72" fill="#4472c4"/>
<rect x="438.00" y="516.16" width="4.6" height="0.44" fill="#4472c4"/>
<rect x="443.24" y="515.72" width="4.6" height="0.88" fill="#4472c4"/>
<rect x="306.5" y="437.8" width="152" height="78.8" fill="none" stroke="#595959" stroke-width="0.9"/>
<text x="303.70" y="517.10" dy="0.35em" font-size="5.2" fill="#333" text-anchor="end">0</text>
<text x="303.70" y="508.34" dy="0.35em" font-size="5.2" fill="#333" text-anchor="end">20</text>
<text x="303.70" y="499.59" dy="0.35em" font-size="5.2" fill="#333" text-anchor="end">40</text>
<text x="303.70" y="490.83" dy="0.35em" font-size="5.2" fill="#333" text-anchor="end">60</text>
<text x="303.70" y="482.08" dy="0.35em" font-size="5.2" fill="#333" text-anchor="end">80</text>
<text x="303.70" y="473.32" dy="0.35em" font-size="5.2" fill="#333" text-anchor="end">100</text>
<text x="303.70" y="464.57" dy="0.35em" font-size="5.2" fill="#333" text-anchor="end">120</text>
<text x="303.70" y="455.81" dy="0.35em" font-size="5.2" fill="#333" text-anchor="end">140</text>
<text x="303.70" y="447.06" dy="0.35em" font-size="5.2" fill="#333" text-anchor="end">160</text>
<text x="303.70" y="438.30" dy="0.35em" font-size="5.2" fill="#333" text-anchor="end">180</text>
<text transform="translate(311.62 518.80) rotate(-90)" font-size="5.0" fill="#333" text-anchor="end">144</text>
<text transform="translate(322.10 518.80) rotate(-90)" font-size="5.0" fill="#333" text-anchor="end">161</text>
<text transform="translate(332.58 518.80) rotate(-90)" font-size="5.0" fill="#333" text-anchor="end">178</text>
<text transform="translate(343.06 518.80) rotate(-90)" font-size="5.0" fill="#333" text-anchor="end">195</text>
<text transform="translate(353.54 518.80) rotate(-90)" font-size="5.0" fill="#333" text-anchor="end">212</text>
<text transform="translate(364.02 518.80) rotate(-90)" font-size="5.0" fill="#333" text-anchor="end">229</text>
<text transform="translate(374.50 518.80) rotate(-90)" font-size="5.0" fill="#333" text-anchor="end">246</text>
<text transform="translate(384.98 518.80) rotate(-90)" font-size="5.0" fill="#333" text-anchor="end">263</text>
<text transform="translate(395.46 518.80) rotate(-90)" font-size="5.0" fill="#333" text-anchor="end">280</text>
<text transform="translate(405.94 518.80) rotate(-90)" font-size="5.0" fill="#333" text-anchor="end">297</text>
<text transform="translate(416.42 518.80) rotate(-90)" font-size="5.0" fill="#333" text-anchor="end">314</text>
<text transform="translate(426.90 518.80) rotate(-90)" font-size="5.0" fill="#333" text-anchor="end">331</text>
<text transform="translate(437.38 518.80) rotate(-90)" font-size="5.0" fill="#333" text-anchor="end">348</text>
<text transform="translate(447.86 518.80) rotate(-90)" font-size="5.0" fill="#333" text-anchor="end">365</text>
<text transform="translate(458.34 518.80) rotate(-90)" font-size="5.0" fill="#333" text-anchor="end">382</text>
<text x="324.30" y="432.90" font-size="7.3" font-weight="bold" fill="#000">RIBOSOMAL PROTEIN MODELS</text>
<text transform="translate(308.20 503.60) rotate(0.0)" font-size="5.7" fill="#111" dy="0.3em">observed = 144</text>
<text transform="translate(357.70 442.10) rotate(0.0)" font-size="5.8" fill="#111" dy="0.3em">median for random trees = 288</text>
<text transform="translate(291.6 477.00) rotate(-90)" font-size="7.1" fill="#111" text-anchor="middle">Number of Trees</text>
<text x="330.30" y="537.00" font-size="7.3" fill="#111">Matching distance from Hug tree</text>
<line x1="311" y1="367.5" x2="311" y2="375.0" stroke="#000" stroke-width="0.7"/>
<polygon points="309.6,374.7 312.4,374.7 311,377.5" fill="#000"/>
<line x1="403.5" y1="308.5" x2="403.5" y2="317.9" stroke="#000" stroke-width="0.7"/>
<polygon points="402.1,317.59999999999997 404.9,317.59999999999997 403.5,320.4" fill="#000"/>
<line x1="309.2" y1="506.4" x2="309.2" y2="512.5" stroke="#000" stroke-width="0.7"/>
<polygon points="307.8,512.2 310.59999999999997,512.2 309.2,515" fill="#000"/>
<line x1="393.4" y1="445" x2="393.4" y2="447.0" stroke="#000" stroke-width="0.7"/>
<polygon points="392.0,446.7 394.79999999999995,446.7 393.4,449.5" fill="#000"/>
</svg></body></html>
